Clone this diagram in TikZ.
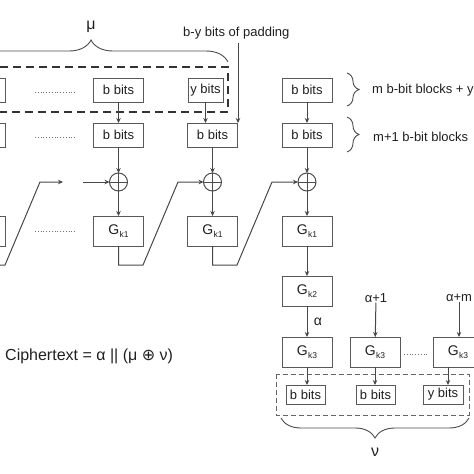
\documentclass[tikz,border=0pt]{standalone}
\usepackage{fontspec}
\setmainfont{Liberation Sans}
\newfontfamily\dejavu{DejaVu Sans}
\usetikzlibrary{arrows.meta,decorations.pathreplacing,calc}
\newcommand\Gk[1]{{\fontsize{14}{16}\selectfont G}\kern0.2pt\raisebox{-2.5pt}{\fontsize{8.5}{9}\selectfont k#1}}
\begin{document}
\begin{tikzpicture}[x=1pt,y=-1pt,
  every node/.style={font=\fontsize{13}{15}\selectfont, text=black!88},
  lbl/.style={inner sep=0pt},
  box/.style={draw=black!65, line width=1pt, inner sep=0pt, outer sep=0pt, minimum width=50pt, minimum height=24pt},
  gbox/.style={box, minimum height=30pt},
  bitbox/.style={box, minimum height=19pt, minimum width=39pt},
  wire/.style={draw=black!72, line width=1pt},
  arr/.style={wire, -{Stealth[length=5pt,width=4.5pt]}},
  xor/.style={circle, draw=black!70, line width=1pt, minimum size=18pt, inner sep=0pt, outer sep=0pt,
    path picture={\draw[black!70,line width=1pt] (path picture bounding box.north) -- (path picture bounding box.south) (path picture bounding box.west) -- (path picture bounding box.east);}},
  dots/.style={draw=black!55, dotted, line width=0.8pt},
  brc/.style={draw=black!70, line width=0.9pt, decorate},
]
\useasboundingbox (0,0) rectangle (474,474);

% dashed boxes
\draw[black!80, line width=1.6pt, dash pattern=on 8pt off 5pt] (-60,67) rectangle (228,112);
\draw[black!60, line width=1pt, dash pattern=on 5pt off 3pt] (276,374) rectangle (469,415);

% top row (left column is cut off by the edge)
\node[box] (tA) at (-20,90) {};
\node[box] (tB) at (118.5,90) {b bits};
\node[box, minimum width=35pt] (tC) at (205.5,90) {y bits};
\node[box] (tD) at (307,90) {b bits};
% second row
\node[box] (sA) at (-20,135) {};
\node[box] (sB) at (118.5,135) {b bits};
\node[box] (sC) at (212.5,135) {b bits};
\node[box] (sD) at (307,135) {b bits};
% xor
\node[xor] (xB) at (118.5,182) {};
\node[xor] (xC) at (212.5,182) {};
\node[xor] (xD) at (307,182) {};
% G row
\node[gbox] (gA) at (-20,231) {};
\node[gbox] (gB) at (118.5,231) {\Gk1};
\node[gbox] (gC) at (212.5,231) {\Gk1};
\node[gbox] (gD) at (307,231) {\Gk1};
\node[gbox] (g2) at (307,291) {\Gk2};
\node[gbox] (h1) at (307,352) {\Gk3};
\node[gbox] (h2) at (375,352) {\Gk3};
\node[gbox] (h3) at (458,352) {\Gk3};
% output bits
\node[bitbox] (o1) at (305.5,394.5) {b bits};
\node[bitbox] (o2) at (375.5,394.5) {b bits};
\node[bitbox, minimum width=40pt] (o3) at (443,394.5) {y bits};

% dotted gaps
\draw[dots] (35,92) -- (75,92);
\draw[dots] (35,137) -- (75,137);
\draw[dots] (35,231) -- (75,231);
\draw[dots] (404,354) -- (428,354);

% vertical arrows
\draw[arr] (tB) -- (sB);
\draw[arr] (tC.south) -- (tC.south |- sC.north);
\draw[arr] (tD) -- (sD);
\draw[arr] (sB) -- (xB);
\draw[arr] (sC) -- (xC);
\draw[arr] (sD) -- (xD);
\draw[arr] (xB) -- (gB);
\draw[arr] (xC) -- (gC);
\draw[arr] (xD) -- (gD);
\draw[arr] (gD) -- (g2);
\draw[arr] (g2) -- (h1);
\node[lbl, font=\fontsize{14}{16}\selectfont] (alpha) at (318,322) {α};

% padding
\node[lbl, anchor=west] (padt) at (183,33) {b-y bits of padding};
\coordinate (pad) at (238,43);
\draw[arr] (pad) -- (pad |- sC.north);

% feedback
\coordinate (fa1) at (5,265);
\coordinate (fa2) at (40,182);
\coordinate (fa3) at (63,182);
\coordinate (fa4) at (83,182);
\draw[arr] (gA.south) |- (fa1) -- (fa2) -- (fa3);
\draw[arr] (fa4) -- (xB.west);
\coordinate (fb1) at (143,265);
\coordinate (fb2) at (178,182);
\draw[arr] (gB.south) |- (fb1) -- (fb2) -- (xC.west);
\coordinate (fc1) at (237,265);
\coordinate (fc2) at (272,182);
\draw[arr] (gC.south) |- (fc1) -- (fc2) -- (xD.west);

% counters
\node[lbl] (a1) at (376,298) {α+1};
\node[lbl] (am) at (459,298) {α+m};
\draw[arr] (a1) -- (h2);
\draw[arr] (am.south) -- (am.south |- h3.north);

% outputs
\draw[arr] (h1.south) -- (h1.south |- o1.north);
\draw[arr] (h2.south) -- (h2.south |- o2.north);
\coordinate (h3b) at (448,367);
\draw[arr] (h3b) -- (h3b |- o3.north);

% braces
\draw[brc, decoration={brace, amplitude=22pt}] (-46,62) -- (228,62);
\node[lbl, font=\fontsize{16}{18}\selectfont] (mu) at (91,27) {μ};
\draw[brc, decoration={brace, amplitude=20pt}] (469,418) -- (281,418);
\node[lbl, font=\fontsize{16}{18}\selectfont] (nu) at (375,452) {ν};
\draw[brc, decoration={brace, amplitude=12pt}] (347,73) -- (347,106);
\draw[brc, decoration={brace, amplitude=12pt}] (347,117) -- (347,152);
\node[lbl, anchor=west] (r1) at (372,90) {m b-bit blocks + y};
\node[lbl, anchor=west] (r2) at (373,137) {m+1 b-bit blocks};

% ciphertext
\node[lbl, anchor=west, font=\fontsize{16}{19}\selectfont] (ct) at (5,356) {Ciphertext = α || (μ {\dejavu ⊕} ν)};
\end{tikzpicture}
\end{document}
